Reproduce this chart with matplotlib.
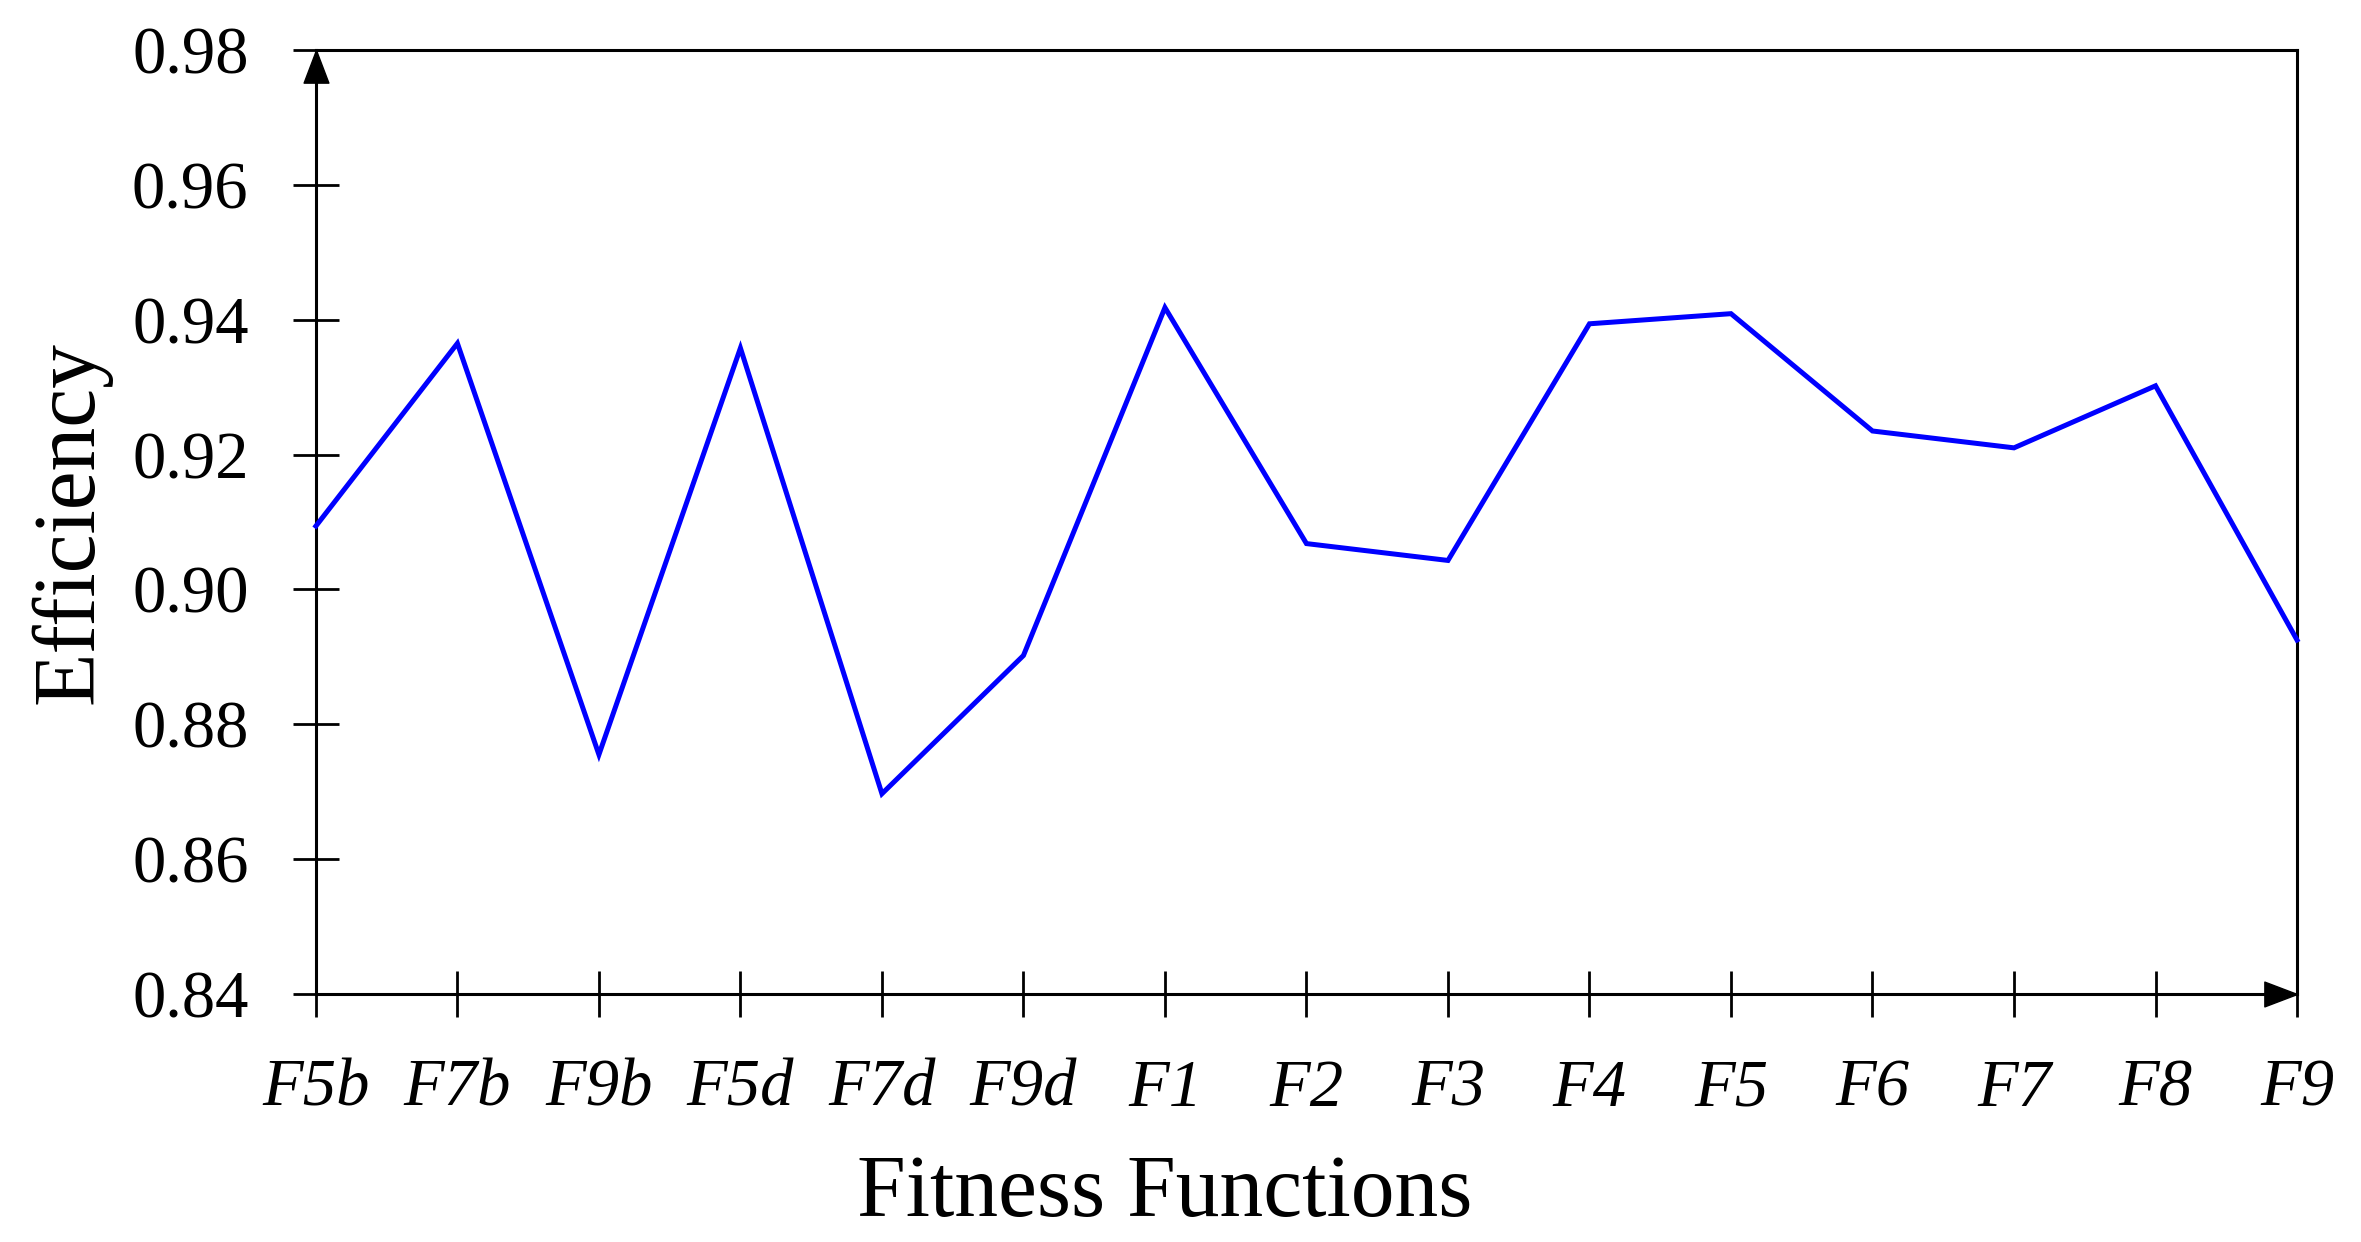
import matplotlib
matplotlib.use("Agg")
import matplotlib.pyplot as plt

# efficiency per fitness function
funcs = ["F5b", "F7b", "F9b", "F5d", "F7d", "F9d",
         "F1", "F2", "F3", "F4", "F5", "F6", "F7", "F8", "F9"]
eff = [0.9094, 0.9365, 0.8755, 0.9358, 0.8697, 0.8902,
       0.9418, 0.9068, 0.9043, 0.9394, 0.9409, 0.9235, 0.9210, 0.9302, 0.8925]
yticks = [0.84, 0.86, 0.88, 0.90, 0.92, 0.94, 0.96, 0.98]

plt.rcParams['font.family'] = ['Liberation Serif', 'DejaVu Serif']

fig = plt.figure(figsize=(23.61, 12.42), dpi=100)
ax = fig.add_axes([0.1338, 0.1997, 0.9729 - 0.1338, 0.9597 - 0.1997])

x = list(range(len(funcs)))
ax.plot(x, eff, color="#0000ff", lw=3.6, solid_joinstyle="miter", clip_on=False, zorder=3)

ax.set_xlim(0, len(funcs) - 1)
ax.set_ylim(0.84, 0.98)
ax.set_xticks(x)
ax.set_xticklabels(funcs, fontstyle="italic", fontsize=48)
ax.set_yticks(yticks)
ax.set_yticklabels(["%.2f" % v for v in yticks], fontsize=48)

for s in ax.spines.values():
    s.set_linewidth(2.2)
ax.tick_params(axis="both", direction="inout", length=33, width=2.0)
ax.tick_params(axis="x", pad=30)
ax.tick_params(axis="y", pad=32)

# arrow heads on the axes
up = [(0, 0), (-0.38, -1), (0.38, -1), (0, 0)]
right = [(0, 0), (-1, 0.38), (-1, -0.38), (0, 0)]
ax.plot([0], [1], marker=up, ms=47, color="k", transform=ax.transAxes, clip_on=False, zorder=4)
ax.plot([1], [0], marker=right, ms=47, color="k", transform=ax.transAxes, clip_on=False, zorder=4)

ax.set_xlabel("Fitness Functions", fontsize=63)
ax.xaxis.set_label_coords(0.4286, -0.17)
ax.set_ylabel("Efficiency", fontsize=63)
ax.yaxis.set_label_coords(-0.103, 0.5)

fig.savefig("out.png", dpi=100)
